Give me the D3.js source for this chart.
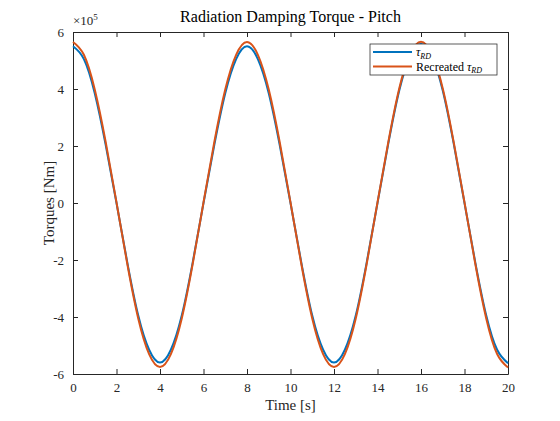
<!DOCTYPE html>
<html lang="en">
<head>
    <meta charset="UTF-8">
    <title>Radiation Damping Torque - Pitch</title>
    <script src="https://d3js.org/d3.v7.min.js"></script>
    <style>
        body { margin: 0; background: #fff; }
        svg text { font-family: "Liberation Serif", "DejaVu Serif", serif !important; }
        .tick text { font-size: 13px; fill: #262626; }
    </style>
</head>
<body>
    <svg id="chart" width="560" height="421"></svg>

    <script>
        // time samples [s]
        const timeSteps = [0, 0.5, 1, 1.5, 2, 2.5, 3, 3.5, 4, 4.5, 5, 5.5, 6, 6.5, 7, 7.5, 8, 8.5, 9, 9.5, 10,
            10.5, 11, 11.5, 12, 12.5, 13, 13.5, 14, 14.5, 15, 15.5, 16, 16.5, 17, 17.5, 18, 18.5, 19, 19.5, 20];

        // torques in units of 1e5 Nm
        const tauRD = [5.50, 5.05, 3.85, 2.05, 0.00, -2.10, -3.95, -5.15, -5.60, -5.15, -3.95, -2.10, 0.00,
            2.05, 3.85, 5.05, 5.50, 5.05, 3.85, 2.05, 0.00, -2.10, -3.95, -5.15, -5.60, -5.15, -3.95, -2.10,
            0.00, 2.10, 3.95, 5.15, 5.58, 5.15, 3.95, 2.10, 0.00, -2.10, -3.95, -5.15, -5.62];
        const tauRecreated = [5.65, 5.20, 3.98, 2.15, 0.02, -2.15, -4.05, -5.30, -5.75, -5.30, -4.05, -2.15, 0.02,
            2.15, 3.98, 5.20, 5.65, 5.20, 3.98, 2.15, 0.02, -2.15, -4.05, -5.30, -5.75, -5.30, -4.05, -2.15,
            0.02, 2.15, 4.02, 5.22, 5.66, 5.22, 4.02, 2.15, 0.02, -2.15, -4.05, -5.30, -5.77];

        const xTicks = [0, 2, 4, 6, 8, 10, 12, 14, 16, 18, 20];
        const yTicks = [-6, -4, -2, 0, 2, 4, 6];

        const svg = d3.select("#chart");
        const margin = { top: 32, right: 52, bottom: 47, left: 73 };
        const width = 560 - margin.left - margin.right,
            height = 421 - margin.top - margin.bottom;

        const x = d3.scaleLinear().domain([0, 20]).range([0, width]);
        const y = d3.scaleLinear().domain([-6, 6]).range([height, 0]);

        const g = svg.append("g")
            .attr("transform", `translate(${margin.left},${margin.top})`);

        // axes with inward ticks, MATLAB-like box; plain hyphen for negatives
        const axisColor = "#262626";
        const fmt = d => String(d);
        g.append("g")
            .attr("transform", `translate(0,${height})`)
            .call(d3.axisBottom(x).tickValues(xTicks).tickFormat(fmt).tickSizeInner(-5).tickSizeOuter(0).tickPadding(9));
        g.append("g")
            .call(d3.axisTop(x).tickValues(xTicks).tickSizeInner(-5).tickSizeOuter(0).tickFormat(""));
        g.append("g")
            .call(d3.axisLeft(y).tickValues(yTicks).tickFormat(fmt).tickSizeInner(-5).tickSizeOuter(0).tickPadding(9));
        g.append("g")
            .attr("transform", `translate(${width},0)`)
            .call(d3.axisRight(y).tickValues(yTicks).tickSizeInner(-5).tickSizeOuter(0).tickFormat(""));
        g.selectAll(".domain, .tick line").attr("stroke", axisColor);

        const line = (vals) => d3.line()
            .x((d, i) => x(timeSteps[i]))
            .y(d => y(d))
            .curve(d3.curveNatural)(vals);

        const series = [
            { name: "tau", values: tauRD, color: "#0072BD" },
            { name: "recreated", values: tauRecreated, color: "#D95319" }
        ];

        series.forEach(s => {
            g.append("path")
                .attr("d", line(s.values))
                .attr("fill", "none")
                .attr("stroke", s.color)
                .attr("stroke-width", 2);
        });

        // exponent label
        const expo = g.append("text")
            .attr("x", 0)
            .attr("y", -7)
            .attr("font-size", 13)
            .attr("fill", axisColor);
        expo.append("tspan").text("\u00d710");
        expo.append("tspan").attr("dy", -5).attr("font-size", 9).text("5");

        // title and axis labels
        svg.append("text")
            .attr("x", margin.left + width / 2)
            .attr("y", 22)
            .attr("text-anchor", "middle")
            .attr("font-size", 16)
            .attr("fill", "#000")
            .text("Radiation Damping Torque - Pitch");

        svg.append("text")
            .attr("x", margin.left + width / 2)
            .attr("y", 410)
            .attr("text-anchor", "middle")
            .attr("font-size", 15)
            .attr("fill", axisColor)
            .text("Time [s]");

        svg.append("text")
            .attr("transform", `translate(49,${margin.top + height / 2}) rotate(-90)`)
            .attr("dy", "0.35em")
            .attr("text-anchor", "middle")
            .attr("font-size", 15)
            .attr("fill", axisColor)
            .text("Torques [Nm]");

        // legend
        const legend = svg.append("g").attr("transform", "translate(370,44)");
        legend.append("rect")
            .attr("width", 127).attr("height", 31)
            .attr("fill", "#fff").attr("stroke", axisColor).attr("stroke-width", 0.75);

        series.forEach((s, i) => {
            const ly = 8 + i * 14.5;
            legend.append("line")
                .attr("x1", 3).attr("x2", 42)
                .attr("y1", ly).attr("y2", ly)
                .attr("stroke", s.color).attr("stroke-width", 2);
            const t = legend.append("text")
                .attr("x", 46).attr("y", ly + 4)
                .attr("font-size", 12)
                .attr("fill", "#000");
            if (i === 1) t.append("tspan").text("Recreated ");
            t.append("tspan").attr("font-style", "italic").text("\u03c4");
            t.append("tspan").attr("font-style", "italic").attr("font-size", 8).attr("dy", 2.5).text("RD");
        });
    </script>
</body>
</html>
